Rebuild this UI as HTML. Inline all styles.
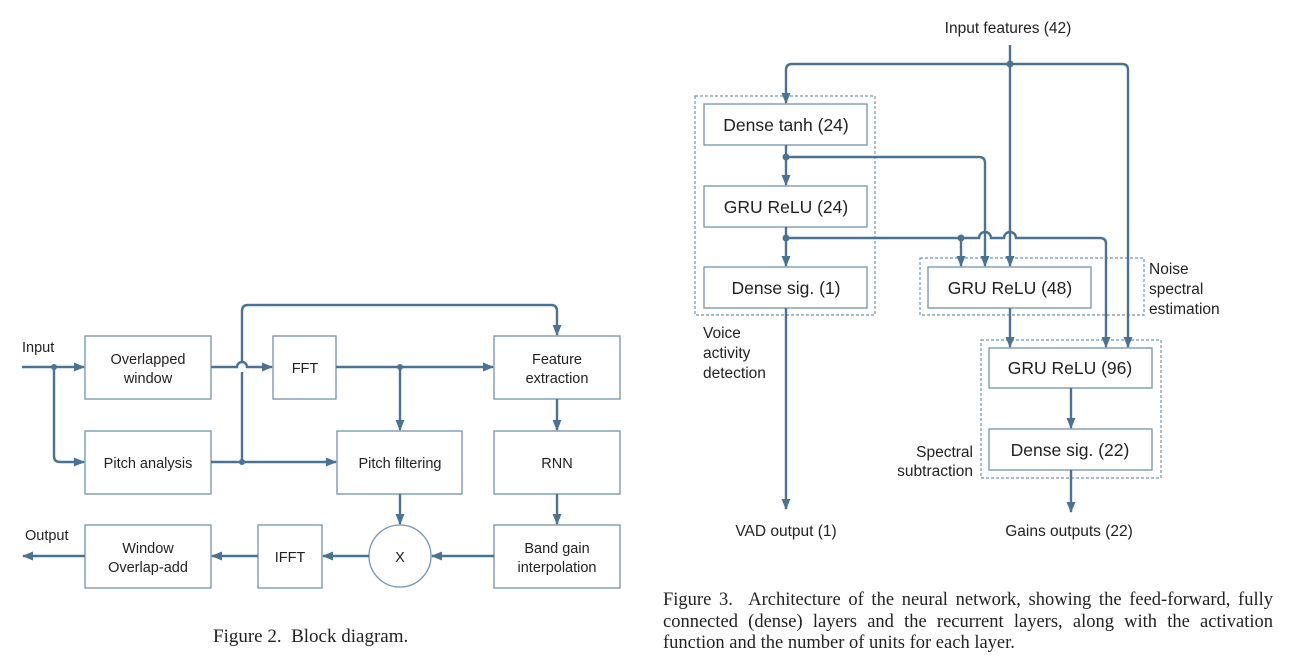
<!DOCTYPE html>
<html><head><meta charset="utf-8"><style>
body{margin:0;background:#fff;width:1301px;height:663px;overflow:hidden;position:relative}
svg{position:absolute;left:0;top:0}
.cap{position:absolute;font-family:"Liberation Serif",serif;font-size:18.5px;color:#222}
</style></head><body>
<svg width="1301" height="663" viewBox="0 0 1301 663" font-family="Liberation Sans, sans-serif" fill="#222">
<defs>
<marker id="a" markerWidth="11" markerHeight="11" refX="10" refY="5.5" orient="auto" markerUnits="userSpaceOnUse"><path d="M0,1 L11,5.5 L0,10 z" fill="#4a7393"/></marker>
</defs>
<g fill="none" stroke="#7392ab" stroke-width="1.3">
<rect x="85" y="336" width="126" height="63"/>
<rect x="85" y="431" width="126" height="63"/>
<rect x="273" y="336" width="63" height="63"/>
<rect x="337" y="431" width="125" height="63"/>
<rect x="494" y="336" width="126" height="63"/>
<rect x="494" y="431" width="126" height="63"/>
<rect x="494" y="525" width="126" height="63"/>
<rect x="85" y="525" width="126" height="63"/>
<rect x="258" y="525" width="64" height="63"/>
<ellipse cx="400" cy="556" rx="31" ry="31"/>
<rect x="704" y="104" width="163" height="41"/>
<rect x="704" y="186" width="163" height="41"/>
<rect x="704" y="267" width="163" height="41"/>
<rect x="928" y="267" width="163" height="41"/>
<rect x="989" y="348" width="163" height="40"/>
<rect x="989" y="429" width="163" height="41"/>
</g>
<g fill="none" stroke="#7392ab" stroke-width="1.2" stroke-dasharray="3,2">
<rect x="695" y="96" width="180" height="219"/>
<rect x="920" y="258" width="224" height="57"/>
<rect x="981" y="340" width="180" height="138"/>
</g>
<g fill="none" stroke="#4a7393" stroke-width="2.4">
<path d="M22,367 H84" marker-end="url(#a)"/>
<path d="M54,367 V456 Q54,462 60,462 H84" marker-end="url(#a)"/>
<path d="M211,367 H237 A5,5 0 0 1 247,367 H272" marker-end="url(#a)"/>
<path d="M211,462 H336" marker-end="url(#a)"/>
<path d="M242,462 V372 M242,362 V311 Q242,305 248,305 H551 Q557,305 557,311 V335" marker-end="url(#a)"/>
<path d="M336,367 H493" marker-end="url(#a)"/>
<path d="M400,367 V430" marker-end="url(#a)"/>
<path d="M557,399 V430" marker-end="url(#a)"/>
<path d="M557,494 V524" marker-end="url(#a)"/>
<path d="M400,494 V524" marker-end="url(#a)"/>
<path d="M494,556 H432" marker-end="url(#a)"/>
<path d="M369,556 H323" marker-end="url(#a)"/>
<path d="M258,556 H212" marker-end="url(#a)"/>
<path d="M85,556 H23" marker-end="url(#a)"/>
<path d="M1010,45 V266" marker-end="url(#a)"/>
<path d="M1010,64 H1122 Q1128,64 1128,70 V347" marker-end="url(#a)"/>
<path d="M1010,64 H792 Q786,64 786,70 V103" marker-end="url(#a)"/>
<path d="M786,145 V185" marker-end="url(#a)"/>
<path d="M786,157 H979 Q985,157 985,163 V266" marker-end="url(#a)"/>
<path d="M786,227 V266" marker-end="url(#a)"/>
<path d="M786,238 H979 A6,6 0 0 1 991,238 H1004 A6,6 0 0 1 1016,238 H1100 Q1106,238 1106,244 V347" marker-end="url(#a)"/>
<path d="M961,238 V266" marker-end="url(#a)"/>
<path d="M1010,308 V347" marker-end="url(#a)"/>
<path d="M1071,388 V428" marker-end="url(#a)"/>
<path d="M1071,470 V512" marker-end="url(#a)"/>
<path d="M786,308 V509" marker-end="url(#a)"/>
</g>
<g fill="#4a7393">
<circle cx="54" cy="367" r="3"/><circle cx="242" cy="462" r="3"/><circle cx="400" cy="367" r="3"/>
<circle cx="1010" cy="64" r="3.5"/><circle cx="786" cy="157" r="3.5"/><circle cx="786" cy="238" r="3.5"/><circle cx="961" cy="238" r="3.5"/>
</g>
<g font-size="14.5" text-anchor="middle">
<text x="148" y="364">Overlapped</text><text x="148" y="383">window</text>
<text x="148" y="468">Pitch analysis</text>
<text x="305" y="373">FFT</text>
<text x="400" y="468">Pitch filtering</text>
<text x="557" y="364">Feature</text><text x="557" y="383">extraction</text>
<text x="557" y="468">RNN</text>
<text x="557" y="553">Band gain</text><text x="557" y="572">interpolation</text>
<text x="148" y="553">Window</text><text x="148" y="572">Overlap-add</text>
<text x="290" y="562">IFFT</text>
<text x="400" y="562">X</text>
</g>
<g font-size="14.5">
<text x="22" y="352">Input</text><text x="25" y="540">Output</text>
</g>
<g font-size="17.5" text-anchor="middle">
<text x="786" y="131">Dense tanh (24)</text>
<text x="786" y="213">GRU ReLU (24)</text>
<text x="786" y="294">Dense sig. (1)</text>
<text x="1010" y="294">GRU ReLU (48)</text>
<text x="1070" y="374">GRU ReLU (96)</text>
<text x="1070" y="456">Dense sig. (22)</text>
</g>
<g font-size="15.5">
<text x="1008" y="33" text-anchor="middle">Input features (42)</text>
<text x="786" y="536" text-anchor="middle">VAD output (1)</text>
<text x="1069" y="536" text-anchor="middle">Gains outputs (22)</text>
<text x="1149" y="274">Noise</text><text x="1149" y="294">spectral</text><text x="1149" y="314">estimation</text>
<text x="703" y="338">Voice</text><text x="703" y="358">activity</text><text x="703" y="378">detection</text>
<text x="973" y="457" text-anchor="end">Spectral</text><text x="973" y="476" text-anchor="end">subtraction</text>
</g>
</svg>
<div class="cap" style="left:213px;top:626px;font-size:19px">Figure 2.&nbsp;&nbsp;Block diagram.</div>
<div class="cap" style="left:663px;top:590px;width:610px;text-align:justify;text-align-last:left;line-height:21.5px">Figure 3.&nbsp;&nbsp;Architecture of the neural network, showing the feed-forward, fully connected (dense) layers and the recurrent layers, along with the activation function and the number of units for each layer.</div>
</body></html>
